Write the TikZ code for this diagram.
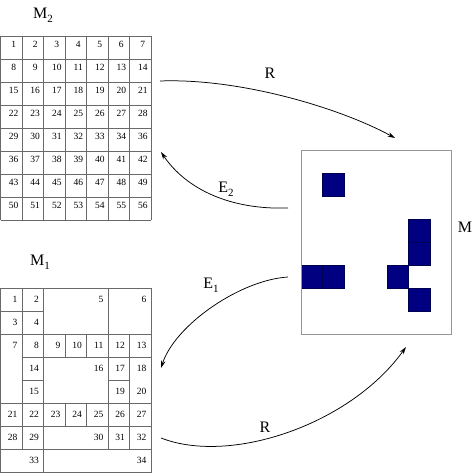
\documentclass[tikz,border=0pt]{standalone}
\usepackage{fontspec}
\setmainfont{Liberation Serif}
\usetikzlibrary{arrows.meta}
\definecolor{gridc}{RGB}{105,105,105}
\definecolor{boxc}{RGB}{150,150,150}
\definecolor{navyc}{RGB}{0,0,128}
\definecolor{navyedge}{RGB}{0,0,80}
\begin{document}
\begin{tikzpicture}[x=1pt,y=-1pt,
  gridline/.style={draw=gridc,line width=0.65pt},
  num/.style={font=\fontsize{9.5}{9.5}\selectfont,inner sep=0pt},
  numr/.style={num,anchor=east},
  biglabel/.style={font=\fontsize{16}{16}\selectfont,inner sep=0pt},
  arr/.style={draw=black,line width=0.75pt,-{Stealth[length=7.5pt,width=4.5pt]}},
  bluecell/.style={fill=navyc,draw=navyedge,line width=0.4pt}]
\useasboundingbox (0,0) rectangle (474,474);

% ---------- M2 grid ----------
\node[biglabel] (lm2) at (43,15) {M\raisebox{-4pt}{\fontsize{11}{11}\selectfont 2}};
\foreach \c in {0,...,7} \draw[gridline] (0.5+21.5*\c,36) -- (0.5+21.5*\c,220);
\foreach \r in {0,...,8} \draw[gridline] (0.5,36+23*\r) -- (151,36+23*\r);
\foreach \r in {0,...,7}{
  \foreach \c in {0,...,6}{
    \pgfmathtruncatemacro\n{7*\r+\c+1}
    \ifnum\n=35 \def\lbl{36}\else\let\lbl\n\fi
    \node[num] (m2n\n) at (0.5+21.5*\c+13.25,36+23*\r+8) {\lbl};
  }
}

% ---------- M1 grid ----------
\node[biglabel] (lm1) at (40,262) {M\raisebox{-4pt}{\fontsize{11}{11}\selectfont 1}};
\draw[gridline] (0.5,288) rectangle (151,472);
\draw[gridline] (0.5,311) -- (43.5,311);
\draw[gridline] (0.5,334) -- (151,334);
\draw[gridline] (22,357) -- (151,357);
\draw[gridline] (22,380) -- (43.5,380);
\draw[gridline] (108,380) -- (129.5,380);
\draw[gridline] (0.5,403) -- (151,403);
\draw[gridline] (0.5,426) -- (151,426);
\draw[gridline] (0.5,449) -- (151,449);
\draw[gridline] (22,288) -- (22,449);
\draw[gridline] (43.5,288) -- (43.5,472);
\draw[gridline] (65,334) -- (65,357);
\draw[gridline] (86.5,334) -- (86.5,357);
\draw[gridline] (65,403) -- (65,426);
\draw[gridline] (86.5,403) -- (86.5,426);
\draw[gridline] (108,288) -- (108,449);
\draw[gridline] (129.5,334) -- (129.5,449);
% labels: {number/right edge/row}
\foreach \t/\xr/\r in {1/22/0,2/43.5/0,5/108/0,6/151/0,3/22/1,4/43.5/1,
  7/22/2,8/43.5/2,9/65/2,10/86.5/2,11/108/2,12/129.5/2,13/151/2,
  14/43.5/3,16/108/3,17/129.5/3,18/151/3,
  15/43.5/4,19/129.5/4,20/151/4,
  21/22/5,22/43.5/5,23/65/5,24/86.5/5,25/108/5,26/129.5/5,27/151/5,
  28/22/6,29/43.5/6,30/108/6,31/129.5/6,32/151/6,
  33/43.5/7,34/151/7}{
  \node[numr] (m1n\t) at (\xr-4.5,288+23*\r+11.5) {\t};
}

% ---------- M box ----------
\node[biglabel] (lm) at (465,227) {M};
\foreach \c/\r in {1/1,5/3,5/4,0/5,1/5,4/5,5/6}
  \draw[bluecell] (301+21.5*\c,150+23*\r) rectangle ++(21.5,23);
\draw[draw=boxc,line width=0.7pt] (301,150) rectangle (451.5,334);

% ---------- arrows ----------
\coordinate (rAs) at (160,81);
\coordinate (rAe) at (395,138);
\coordinate (e2s) at (288,208);
\coordinate (e2e) at (161,152);
\coordinate (e1s) at (288,277);
\coordinate (e1e) at (161,368);
\coordinate (rBs) at (161,438);
\coordinate (rBe) at (406,347);
\draw[arr] (rAs) .. controls (240,78) and (340,108) .. (rAe);
\draw[arr] (e2s) .. controls (230,210) and (186,189) .. (e2e);
\draw[arr] (e1s) .. controls (240,280) and (175,325) .. (e1e);
\draw[arr] (rBs) .. controls (230,465) and (350,425) .. (rBe);
\node[biglabel] (lr1) at (270,73) {R};
\node[biglabel] (le2) at (226,189) {E\raisebox{-4pt}{\fontsize{11}{11}\selectfont 2}};
\node[biglabel] (le1) at (211,285) {E\raisebox{-4pt}{\fontsize{11}{11}\selectfont 1}};
\node[biglabel] (lr2) at (265,427) {R};
\end{tikzpicture}
\end{document}
